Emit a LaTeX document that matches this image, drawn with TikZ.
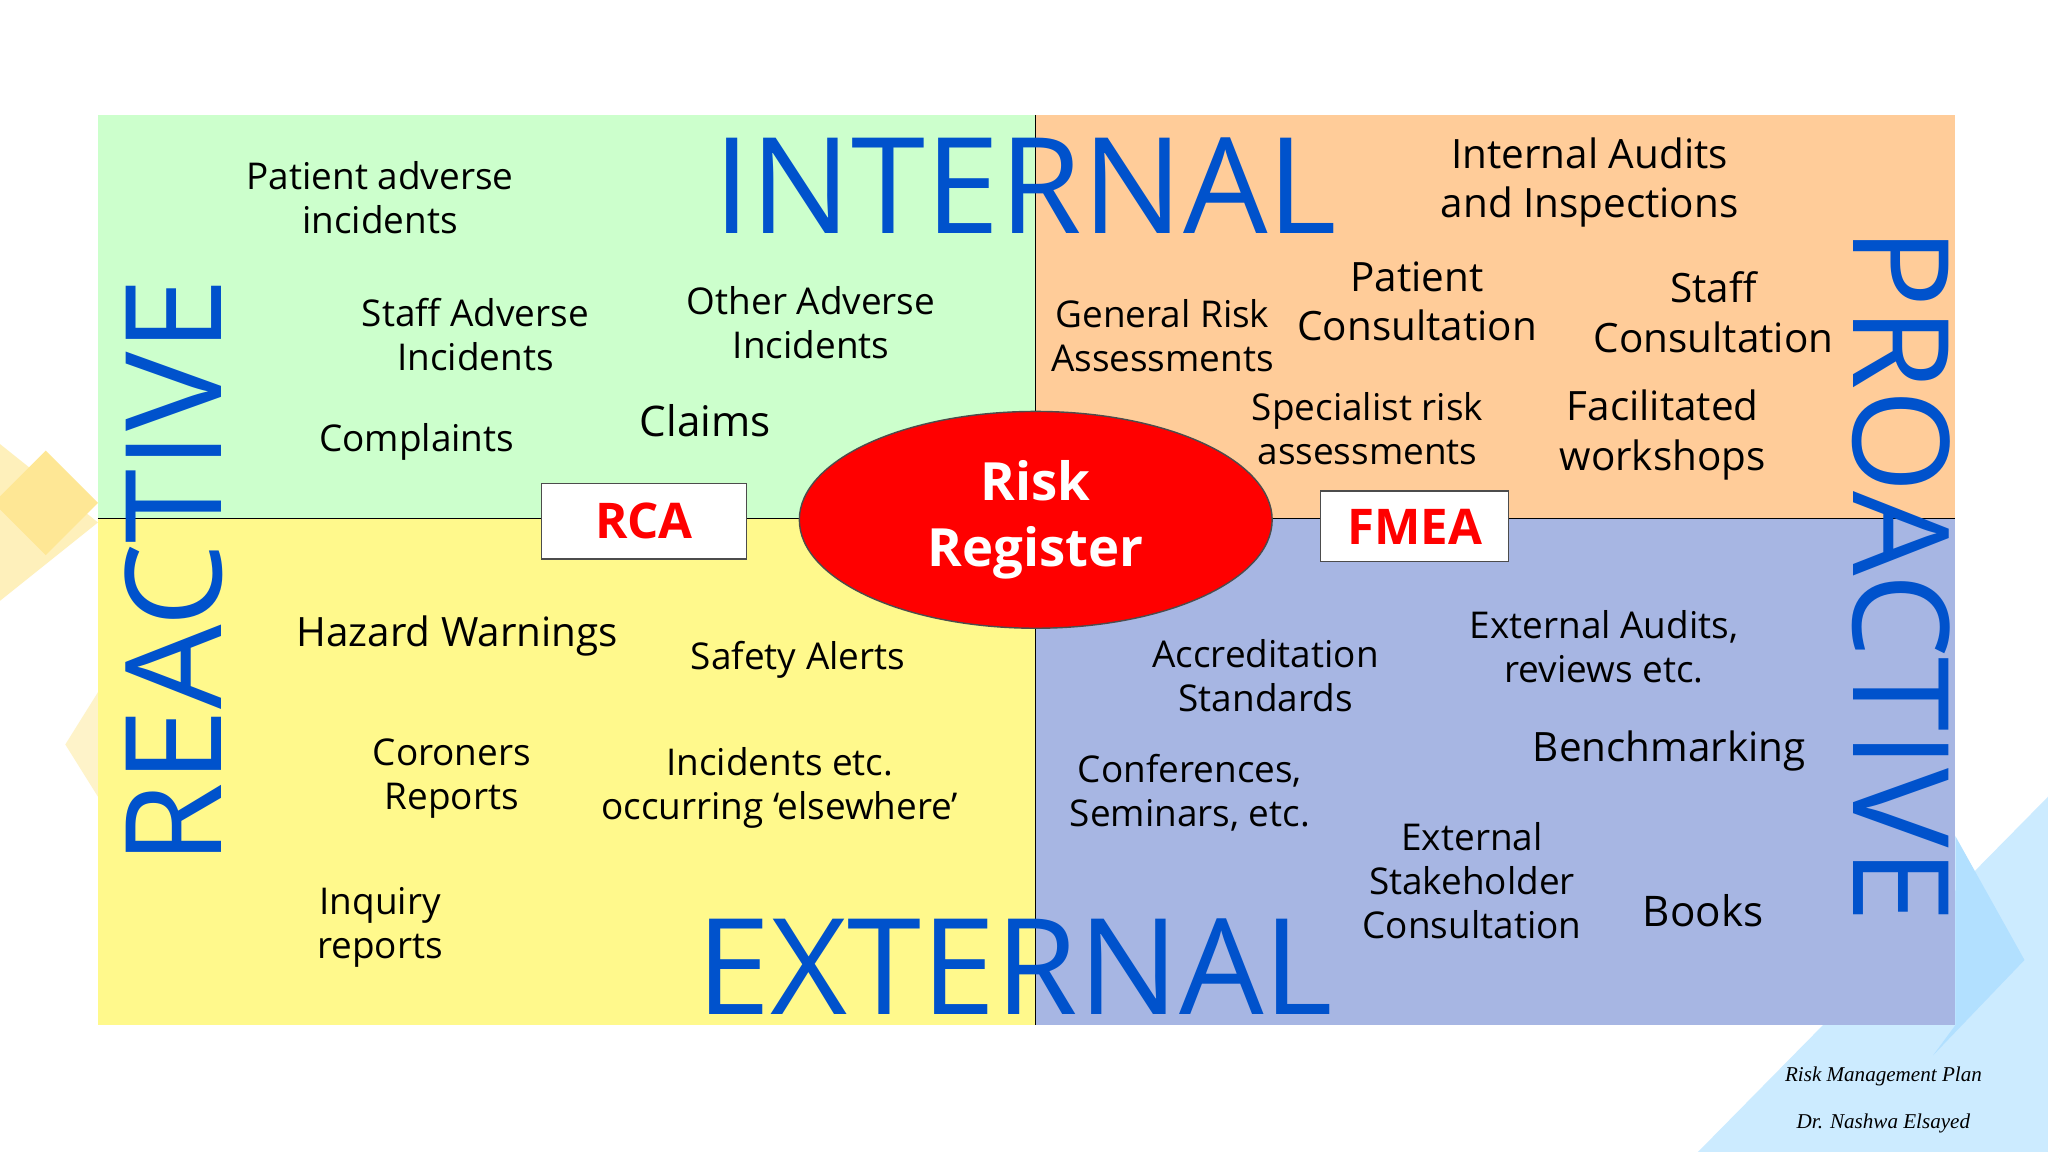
\documentclass[tikz,border=0pt]{standalone}
\usetikzlibrary{shapes.geometric}
\usepackage{fontspec}
\setmainfont{Open Sans}
\newfontfamily\serifit{Liberation Serif}
\begin{document}
\begin{tikzpicture}[x=0.01306cm,y=-0.01306cm,
 lab/.style={align=center,font=\fontsize{10.5}{12.5}\selectfont,text=black,inner sep=0pt},
 big/.style={text=blue!60!cyan!80!black,font=\fontsize{38}{38}\selectfont,inner sep=0pt},
 tool/.style={draw=black!70,fill=white,minimum width=157*0.01306cm,minimum height=58*0.01306cm,text=red,font=\bfseries\fontsize{14}{14}\selectfont}]
\useasboundingbox (0,0) rectangle (1568,882);
\fill[white] (0,0) rectangle (1568,882);
% decorative diamonds
\fill[yellow!60!orange!25] (0,340) -- (75,400) -- (0,460) -- cycle;
\fill[yellow!60!orange!40] (35,345) -- (75,385) -- (35,425) -- (-5,385) -- cycle;
\fill[yellow!60!orange!20] (75,530) -- (50,570) -- (75,610) -- cycle;
\fill[blue!40!cyan!20] (1568,610) -- (1568,882) -- (1300,882) -- cycle;
\fill[blue!40!cyan!30] (1497,640) -- (1550,735) -- (1480,808) -- (1497,785) -- cycle;
% quadrants
\fill[green!20] (75,88) rectangle (793,397);
\fill[orange!40] (793,88) rectangle (1497,397);
\fill[yellow!45] (75,397) rectangle (793,785);
\fill[cyan!40!blue!35] (793,397) rectangle (1497,785);
\draw[black] (75,397) -- (1497,397);
\draw[black] (793,88) -- (793,785);
% big labels
\node[big] (int) at (785,142) {INTERNAL};
\node[big] (ext) at (777,740) {EXTERNAL};
\node[big,rotate=90] (rea) at (133,438) {REACTIVE};
\node[big,rotate=-90] (pro) at (1456,440) {PROACTIVE};
% center
\node[ellipse,draw=black!70,fill=red,minimum width=362*0.01306cm,minimum height=166*0.01306cm,text=white,font=\bfseries\fontsize{15}{19}\selectfont,align=center] (rr) at (793,398) {Risk\\Register};
\node[tool] (rca) at (493,399) {RCA};
\node[tool,minimum width=144*0.01306cm,minimum height=54*0.01306cm] (fmea) at (1083,403) {FMEA};
% green
\node[lab] (a1) at (291,151) {Patient adverse\\incidents};
\node[lab] (a2) at (364,256) {Staff Adverse\\Incidents};
\node[lab] (a3) at (621,247) {Other Adverse\\Incidents};
\node[lab] (a4) at (319,338) {Complaints};
\node[lab,font=\fontsize{12}{14}\selectfont] (a5) at (540,322) {Claims};
% orange
\node[lab,font=\fontsize{11.5}{14}\selectfont] (b1) at (1217,140) {Internal Audits\\and Inspections};
\node[lab,font=\fontsize{11.5}{14}\selectfont] (b2) at (1085,231) {Patient\\Consultation};
\node[lab,font=\fontsize{11.5}{14}\selectfont] (b3) at (1312,239) {Staff\\Consultation};
\node[lab] (b4) at (890,257) {General Risk\\Assessments};
\node[lab] (b5) at (1047,328) {Specialist risk\\assessments};
\node[lab,font=\fontsize{11.5}{14}\selectfont] (b6) at (1273,333) {Facilitated\\workshops};
% yellow
\node[lab,font=\fontsize{11.5}{14}\selectfont] (c1) at (350,487) {Hazard Warnings};
\node[lab] (c2) at (611,505) {Safety Alerts};
\node[lab] (c3) at (346,596) {Coroners\\Reports};
\node[lab] (c4) at (597,603) {Incidents etc.\\occurring `elsewhere'};
\node[lab] (c5) at (291,710) {Inquiry\\reports};
% blue
\node[lab] (d1) at (969,517) {Accreditation\\Standards};
\node[lab] (d2) at (1228,495) {External Audits,\\reviews etc.};
\node[lab,font=\fontsize{11.5}{14}\selectfont] (d3) at (1278,575) {Benchmarking};
\node[lab] (d4) at (911,607) {Conferences,\\Seminars, etc.};
\node[lab] (d5) at (1127,674) {External\\Stakeholder\\Consultation};
\node[lab,font=\fontsize{12}{14}\selectfont] (d6) at (1304,697) {Books};
% footer
\node[font=\serifit\itshape\fontsize{6}{7}\selectfont] (f1) at (1442,824) {Risk Management Plan};
\node[font=\serifit\itshape\fontsize{6}{7}\selectfont] (f2) at (1442,860) {Dr. Nashwa Elsayed};
\end{tikzpicture}
\end{document}
